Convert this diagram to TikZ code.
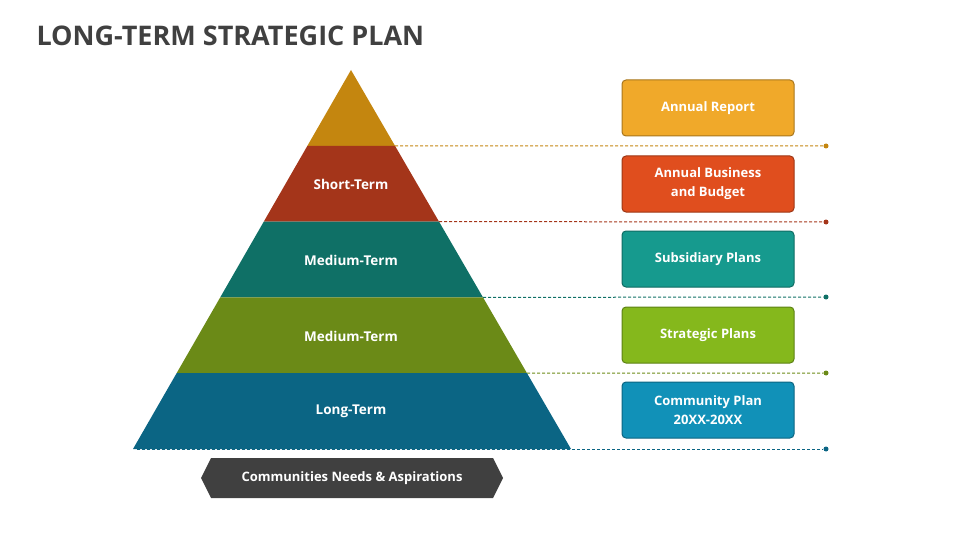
\documentclass[tikz,border=0pt]{standalone}
\usepackage{fontspec}
\setmainfont{Open Sans}
\usetikzlibrary{calc,positioning,shapes.geometric}
\definecolor{cTop}{HTML}{C4860F}
\definecolor{cShort}{HTML}{A4351A}
\definecolor{cMedA}{HTML}{0F7066}
\definecolor{cMedB}{HTML}{6B8A17}
\definecolor{cLong}{HTML}{0B6584}
\definecolor{bReport}{HTML}{F0A92A}
\definecolor{bBudget}{HTML}{E04E1E}
\definecolor{bSub}{HTML}{169A8E}
\definecolor{bStrat}{HTML}{85B81C}
\definecolor{bComm}{HTML}{1191B8}
\definecolor{titlegray}{HTML}{404040}
\tikzset{
  planbox/.style={draw=#1!70!black, fill=#1, rounded corners=4pt, line width=1pt,
    minimum width=172pt, minimum height=56pt, align=center, text=white,
    font=\bfseries\fontsize{13}{19}\selectfont},
  layerlabel/.style={text=white, font=\bfseries\fontsize{13.5}{16}\selectfont},
  guide/.style={densely dashed, line width=1pt, draw=#1},
  guidedot/.style={circle, fill=#1, inner sep=0pt, minimum size=5pt}
}
\begin{document}
\begin{tikzpicture}[x=1pt,y=-1pt]
  \useasboundingbox (0,0) rectangle (960,540);
  % title
  \node [anchor=west, text=titlegray, font=\bfseries\fontsize{27}{32}\selectfont]
    (title) at (33,36) {LONG-TERM STRATEGIC PLAN};

  % pyramid corners
  \coordinate (apex) at (351,70);
  \coordinate (base left) at (133,449);
  \coordinate (base right) at (571,449);
  \foreach \i/\t in {1/0.2,2/0.4,3/0.6,4/0.8} {
    \coordinate (L\i) at ($(apex)!\t!(base left)$);
    \coordinate (R\i) at ($(apex)!\t!(base right)$);
  }

  % layers
  \fill [cTop] (apex) -- (R1) -- (L1) -- cycle;
  \fill [cShort] (L1) -- (R1) -- (R2) -- (L2) -- cycle;
  \fill [cMedA] (L2) -- (R2) -- (R3) -- (L3) -- cycle;
  \fill [cMedB] (L3) -- (R3) -- (R4) -- (L4) -- cycle;
  \fill [cLong] (L4) -- (R4) -- (base right) -- (base left) -- cycle;

  \node [layerlabel] (short) at (351,184) {Short-Term};
  \node [layerlabel] (medium a) at (351,260) {Medium-Term};
  \node [layerlabel] (medium b) at (351,336) {Medium-Term};
  \node [layerlabel] (long) at (351,411) {Long-Term};

  % guide lines
  \node [guidedot=cTop] (d1) at (826,146) {};
  \node [guidedot=cShort] (d2) at (826,222) {};
  \node [guidedot=cMedA] (d3) at (826,297) {};
  \node [guidedot=cMedB] (d4) at (826,373) {};
  \node [guidedot=cLong] (d5) at (826,449) {};
  \draw [guide=cTop] (R1) -- (d1);
  \draw [guide=cShort] (R2) -- (d2);
  \draw [guide=cMedA] (R3) -- (d3);
  \draw [guide=cMedB] (R4) -- (d4);
  \draw [guide=cLong] ($(base left)+(4,0)$) -- (d5);

  % plan boxes
  \node [planbox=bReport] (report) at (708,108) {Annual Report};
  \node [planbox=bBudget] (budget) at (708,184) {Annual Business\\and Budget};
  \node [planbox=bSub] (subsidiary) at (708,259) {Subsidiary Plans};
  \node [planbox=bStrat] (strategic) at (708,335) {Strategic Plans};
  \node [planbox=bComm] (community) at (708,410) {Community Plan\\20XX-20XX};

  % base banner
  \fill [titlegray] (201,478) -- (211,458) -- (493,458) -- (503,478) -- (493,498) -- (211,498) -- cycle;
  \node [text=white, font=\bfseries\fontsize{13}{16}\selectfont] (needs) at (352,478)
    {Communities Needs \& Aspirations};
\end{tikzpicture}
\end{document}
